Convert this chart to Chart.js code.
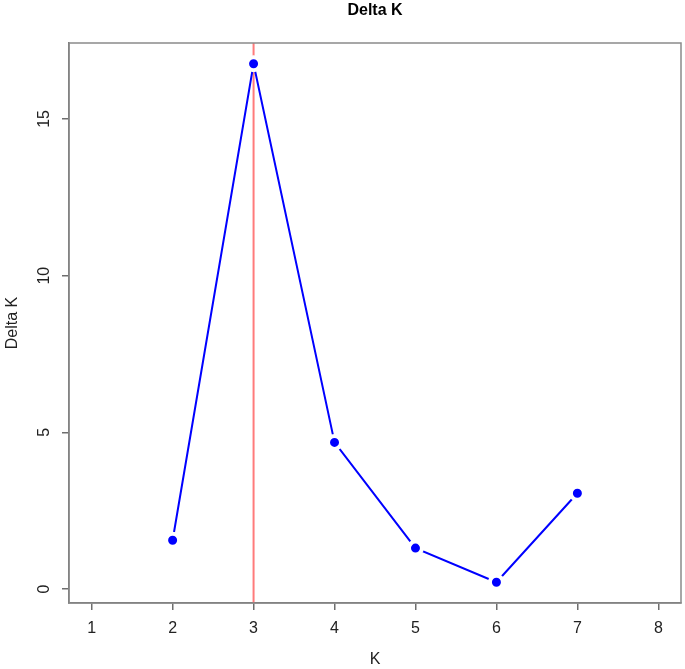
<!DOCTYPE html>
<html>
<head>
<meta charset="utf-8">
<script src="https://cdn.jsdelivr.net/npm/chart.js@4"></script>
<style>
  body { margin: 0; background: #fff; }
  #wrap { width: 685px; height: 669px; }
</style>
</head>
<body>
<div id="wrap"><canvas id="delta-k-chart"></canvas></div>
<script>
// values
const kValues = [2, 3, 4, 5, 6, 7]
const deltaK = [1.56, 16.76, 4.68, 1.31, 0.22, 3.06]
const xTicks = [1, 2, 3, 4, 5, 6, 7, 8]
const yTicks = [0, 5, 10, 15]
const bestK = [3]

const font = "'Liberation Sans', Arial, sans-serif"
const axisGray = '#6e6e6e'

// R style: 4% padding around the data range
function padRange(lo, hi) {
    const d = (hi - lo) * 0.04
    return [lo - d, hi + d]
}
const xRange = padRange(1, 8)
const yRange = padRange(Math.min(...deltaK), Math.max(...deltaK))

let points = []
kValues.forEach((k, i) => {
    points.push({ x: k, y: deltaK[i] })
})

const frame = {
    id: 'frame',
    beforeDatasetsDraw(chart) {
        const { ctx, chartArea: a, scales } = chart
        ctx.save()
        // vertical line at best K
        ctx.strokeStyle = 'rgba(255, 90, 90, 0.8)'
        ctx.lineWidth = 2
        bestK.forEach(k => {
            const px = scales.x.getPixelForValue(k)
            ctx.beginPath()
            ctx.moveTo(px, a.top)
            ctx.lineTo(px, a.bottom)
            ctx.stroke()
        })
        ctx.restore()
    },
    afterDraw(chart) {
        const { ctx, chartArea: a, scales } = chart
        ctx.save()
        ctx.strokeStyle = '#8a8a8a'
        ctx.lineWidth = 1.5
        ctx.strokeRect(a.left, a.top, a.right - a.left, a.bottom - a.top)
        ctx.fillStyle = '#222'
        ctx.font = '16px ' + font
        ctx.textAlign = 'center'
        ctx.textBaseline = 'middle'
        // rotated y tick labels, R style
        yTicks.forEach(v => {
            const py = scales.y.getPixelForValue(v)
            ctx.save()
            ctx.translate(45, py)
            ctx.rotate(-Math.PI / 2)
            ctx.fillText(String(v), 0, 0)
            ctx.restore()
        })
        // title centred over the plot box
        ctx.fillStyle = '#000'
        ctx.font = 'bold 16px ' + font
        ctx.fillText('Delta K', (a.left + a.right) / 2, 11)
        ctx.restore()
    }
}

const ctx = document.getElementById('delta-k-chart')
const myChart = new Chart(ctx, {
    type: 'line',
    data: {
        datasets: [{
            label: 'Delta K',
            data: points,
            borderColor: '#0000ff',
            backgroundColor: '#0000ff',
            borderWidth: 2,
            pointRadius: 6.5,
            pointBorderWidth: 4,
            pointBorderColor: '#ffffff',
            pointBackgroundColor: '#0000ff',
            tension: 0
        }]
    },
    options: {
        responsive: true,
        maintainAspectRatio: false,
        animation: false,
        layout: {
            autoPadding: false,
            padding: { top: 43, right: 4, left: 0, bottom: 0 }
        },
        plugins: {
            legend: { display: false },
            tooltip: { enabled: false }
        },
        scales: {
            x: {
                type: 'linear',
                min: xRange[0],
                max: xRange[1],
                afterBuildTicks: scale => {
                    scale.ticks = xTicks.map(v => ({ value: v }))
                },
                afterFit: scale => {
                    scale.height = 66
                    scale.paddingLeft = 0
                    scale.paddingRight = 0
                },
                grid: {
                    drawOnChartArea: false,
                    tickLength: 7,
                    color: axisGray,
                    lineWidth: 1.5
                },
                border: { color: axisGray, width: 1.5 },
                ticks: {
                    color: '#222',
                    font: { family: font, size: 16 },
                    padding: 9,
                    maxRotation: 0,
                    autoSkip: false
                },
                title: {
                    display: true,
                    text: 'K',
                    color: '#222',
                    font: { family: font, size: 16 },
                    padding: { top: 9, bottom: 0 }
                }
            },
            y: {
                type: 'linear',
                min: yRange[0],
                max: yRange[1],
                afterBuildTicks: scale => {
                    scale.ticks = yTicks.map(v => ({ value: v }))
                },
                afterFit: scale => {
                    scale.width = 69
                    scale.paddingTop = 0
                    scale.paddingBottom = 0
                },
                grid: {
                    drawOnChartArea: false,
                    tickLength: 7,
                    color: axisGray,
                    lineWidth: 1.5
                },
                border: { color: axisGray, width: 1.5 },
                ticks: {
                    // labels are drawn rotated by the frame plugin
                    color: 'rgba(0, 0, 0, 0)'
                },
                title: {
                    display: true,
                    text: 'Delta K',
                    color: '#222',
                    font: { family: font, size: 16 },
                    padding: { top: 3, bottom: 6 }
                }
            }
        }
    },
    plugins: [frame]
})
</script>
</body>
</html>
